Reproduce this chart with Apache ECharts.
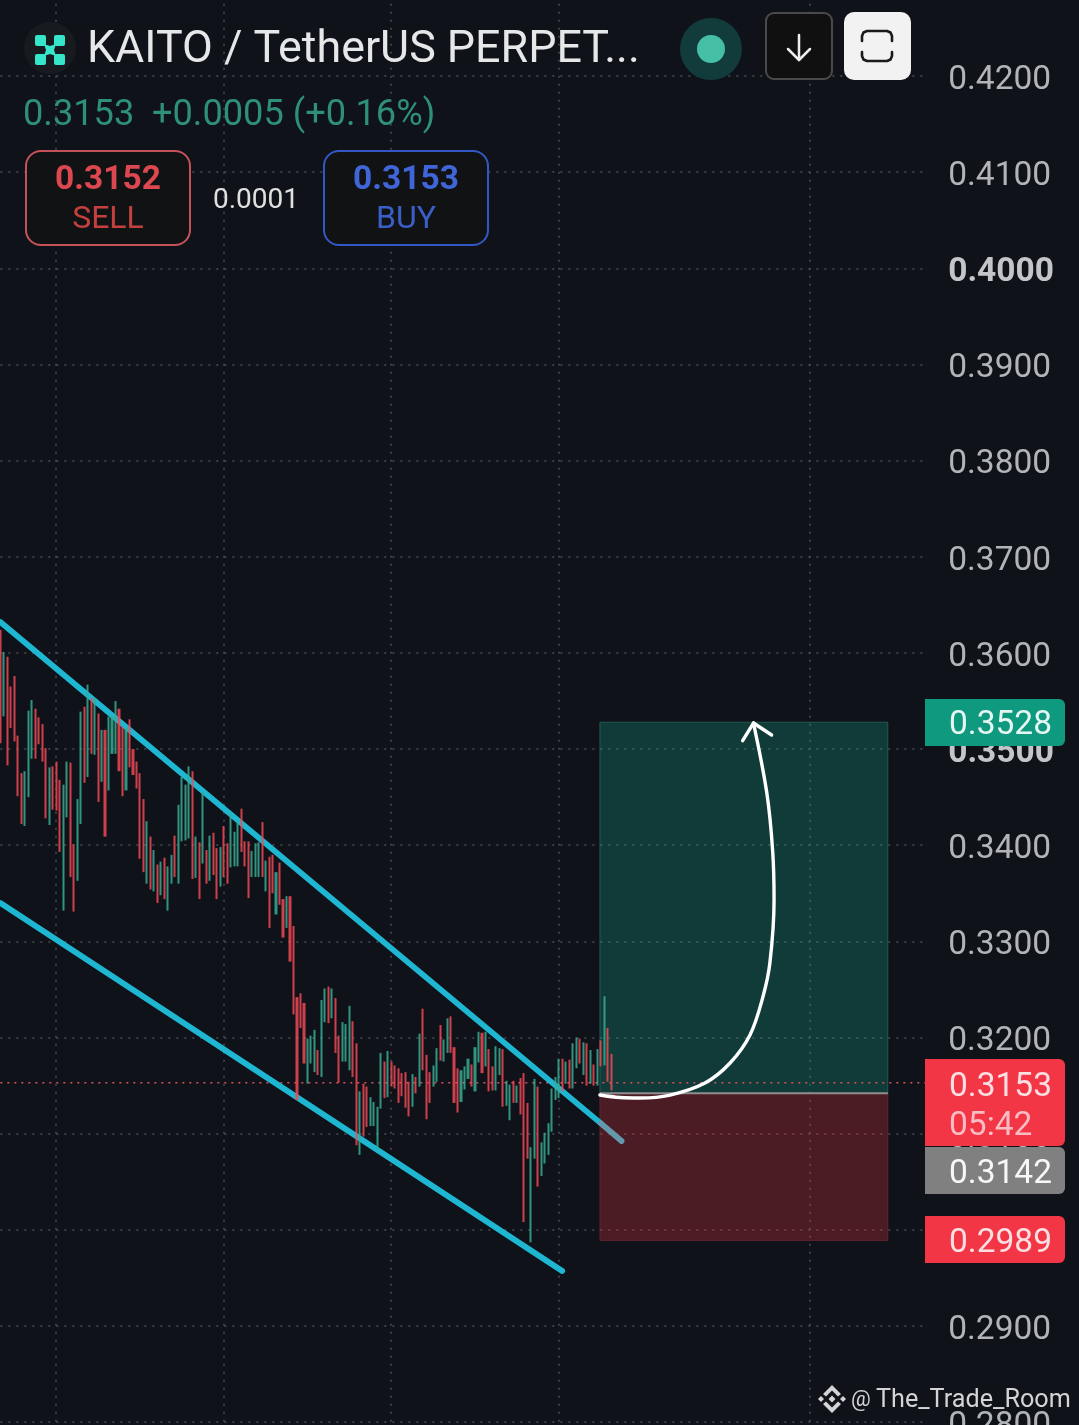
<!DOCTYPE html>
<html><head><meta charset="utf-8">
<style>html,body{margin:0;padding:0;background:#0f1219}#c{width:1079px;height:1425px}</style>
<script src="https://cdn.jsdelivr.net/npm/echarts@6/dist/echarts.min.js"></script>
</head><body><div id="c"></div><script>
const highs=[0.3624,0.3601,0.3596,0.3565,0.3576,0.3514,0.3475,0.3477,0.3540,0.3551,
0.3542,0.3533,0.3526,0.3501,0.3481,0.3482,0.3487,0.3468,0.3463,0.3487,
0.3486,0.3401,0.3448,0.3539,0.3544,0.3567,0.3553,0.3553,0.3537,0.3520,
0.3520,0.3534,0.3534,0.3550,0.3542,0.3523,0.3522,0.3531,0.3500,0.3487,
0.3475,0.3448,0.3425,0.3409,0.3395,0.3380,0.3383,0.3387,0.3378,0.3390,
0.3410,0.3442,0.3471,0.3463,0.3482,0.3477,0.3409,0.3403,0.3456,0.3395,
0.3410,0.3413,0.3397,0.3398,0.3420,0.3402,0.3433,0.3414,0.3426,0.3438,
0.3404,0.3404,0.3394,0.3402,0.3403,0.3424,0.3384,0.3388,0.3390,0.3372,
0.3382,0.3344,0.3347,0.3347,0.3316,0.3242,0.3246,0.3236,0.3199,0.3202,
0.3208,0.3187,0.3239,0.3251,0.3253,0.3251,0.3241,0.3202,0.3216,0.3214,
0.3233,0.3217,0.3194,0.3144,0.3152,0.3149,0.3138,0.3133,0.3128,0.3184,
0.3175,0.3186,0.3175,0.3171,0.3168,0.3163,0.3164,0.3154,0.3162,0.3159,
0.3204,0.3230,0.3182,0.3164,0.3171,0.3189,0.3213,0.3198,0.3220,0.3222,
0.3190,0.3168,0.3166,0.3170,0.3178,0.3172,0.3190,0.3206,0.3205,0.3206,
0.3188,0.3170,0.3191,0.3189,0.3188,0.3155,0.3151,0.3155,0.3150,0.3158,
0.3163,0.3132,0.3086,0.3157,0.3149,0.3091,0.3101,0.3111,0.3147,0.3159,
0.3178,0.3178,0.3175,0.3177,0.3194,0.3200,0.3199,0.3195,0.3194,0.3187,
0.3172,0.3188,0.3197,0.3243,0.3210,0.3183];
const lows=[0.3506,0.3534,0.3483,0.3522,0.3508,0.3451,0.3422,0.3420,0.3450,0.3490,
0.3490,0.3505,0.3487,0.3428,0.3421,0.3437,0.3436,0.3393,0.3332,0.3429,
0.3367,0.3331,0.3363,0.3422,0.3465,0.3471,0.3495,0.3494,0.3445,0.3466,
0.3409,0.3457,0.3495,0.3495,0.3477,0.3451,0.3457,0.3481,0.3473,0.3459,
0.3386,0.3372,0.3360,0.3354,0.3352,0.3340,0.3348,0.3344,0.3332,0.3360,
0.3367,0.3360,0.3404,0.3405,0.3407,0.3365,0.3366,0.3344,0.3381,0.3360,
0.3363,0.3369,0.3344,0.3357,0.3367,0.3360,0.3377,0.3378,0.3378,0.3393,
0.3378,0.3345,0.3367,0.3367,0.3367,0.3367,0.3352,0.3314,0.3350,0.3328,
0.3338,0.3304,0.3314,0.3279,0.3224,0.3135,0.3210,0.3173,0.3152,0.3173,
0.3164,0.3161,0.3159,0.3216,0.3215,0.3220,0.3184,0.3153,0.3175,0.3175,
0.3166,0.3159,0.3088,0.3078,0.3097,0.3107,0.3108,0.3108,0.3083,0.3126,
0.3137,0.3138,0.3149,0.3147,0.3132,0.3139,0.3127,0.3118,0.3128,0.3142,
0.3149,0.3166,0.3115,0.3132,0.3149,0.3154,0.3176,0.3175,0.3184,0.3184,
0.3132,0.3122,0.3133,0.3146,0.3157,0.3149,0.3144,0.3174,0.3163,0.3170,
0.3144,0.3145,0.3145,0.3161,0.3128,0.3129,0.3114,0.3132,0.3132,0.3120,
0.3008,0.3074,0.2987,0.3074,0.3045,0.3056,0.3069,0.3078,0.3102,0.3135,
0.3137,0.3144,0.3152,0.3147,0.3147,0.3168,0.3173,0.3161,0.3150,0.3152,
0.3150,0.3150,0.3170,0.3171,0.3154,0.3145];
const directions="RGRRRRRGGG"+"RRRRGRRRGG"+"RRGGRGRGRG"+"RGGGRRGRRR"+"RRGRGRGRGG"+"RGGGGRGRGR"+"GRRGRRGGGR"+"RRGGGRGRRG"+"RRGRRRRRGG"+"GRGGRGRRGG"+"GRRGRRGGGG"+"RGRRRRRRGR"+"GRRRGGRGGR"+"RRGGGRGGRG"+"RRGGRGGRGR"+"RRGGRGGGGG"+"GRGRGGRGRG"+"RGRGRR";
const slotCount=266;
const timeGridSlots=[16,64,112,160,232];
const yTicksBold=[0.40,0.35];
const lastPrice=0.3153, entryPrice=0.3142, targetPrice=0.3528, stopPrice=0.2989;
const boxStart=171.8, boxEnd=254.3;
const upperChannel=[[0,0.36322],[172,0.3111]];
const upperChannelTail=[[172,0.3111],[178,0.30924]];
const lowerChannel=[[0,0.33399],[161,0.29572]];
const arrowCurve=[[171.8,0.31402],[177.6,0.31376],[183.3,0.31371],[191.9,0.31402],[201.9,0.31527],[209.1,0.31735],[214.8,0.32026],[218.5,0.32422],[220.5,0.32775],[221.7,0.3343],[221.3,0.3394],[219.6,0.3455],[215.8,0.35271]];
const arrowHead=[[212.7,0.35087],[215.8,0.35271],[221.0,0.35146]];

const font='Roboto';
const slots=Array.from({length:slotCount},(_,i)=>String(i));
const candles=highs.map((h,i)=>directions[i]==='G'?[lows[i],h,lows[i],h]:[h,lows[i],lows[i],h]);
const dots={type:[2,6],color:'#4b4f57',width:1.5};
const chart=echarts.init(document.getElementById('c'),null,{renderer:'canvas'});
const txt=(t,x,y,size,fill,extra)=>({type:'text',x,y:y+3.5,style:Object.assign({text:t,fontFamily:font,fontSize:size,fill,verticalAlign:'middle'},extra||{})});
const ctxt=(t,x,y,size,fill,weight)=>txt(t,x,y,size,fill,{align:'center',fontWeight:weight||400});
const tag=(x,y,w,h,fill,r)=>({type:'rect',shape:{x,y,width:w,height:h,r},style:{fill}});
const line=(data,color,width,z,extra)=>Object.assign({type:'line',xAxisIndex:1,yAxisIndex:0,data,symbol:'none',z,silent:true,animation:false,lineStyle:{color,width,cap:'round',join:'round'}},extra||{});
const poly=(points,stroke,lineWidth)=>({type:'polyline',shape:{points},style:{fill:null,stroke,lineWidth,lineCap:'round',lineJoin:'round'}});
const gon=(points,fill)=>({type:'polygon',shape:{points},style:{fill}});
const annotations=[
  {type:'circle',shape:{cx:50,cy:48,r:26},style:{fill:'#171b20'}},
  {type:'rect',shape:{x:35,y:35,width:11,height:11,r:2},style:{fill:'#35e6cb'}},
  {type:'rect',shape:{x:54,y:35,width:11,height:11,r:2},style:{fill:'#35e6cb'}},
  {type:'rect',shape:{x:35,y:54,width:11,height:11,r:2},style:{fill:'#35e6cb'}},
  {type:'rect',shape:{x:54,y:54,width:11,height:11,r:2},style:{fill:'#35e6cb'}},
  gon([[44,44],[50,46],[56,44],[54,50],[56,56],[50,54],[44,56],[46,50]],'#35e6cb'),
  {type:'circle',shape:{cx:711,cy:49,r:31},style:{fill:'#123b3b'}},
  {type:'circle',shape:{cx:711,cy:49,r:14},style:{fill:'#45bfa5'}},
  {type:'rect',shape:{x:766,y:13,width:66,height:66,r:8},style:{fill:'#101010',stroke:'#4a4a4a',lineWidth:2}},
  poly([[799,35],[799,60]],'#eeeeee',2.5),
  poly([[788,49],[799,60],[810,49]],'#eeeeee',2.5),
  {type:'rect',shape:{x:844,y:12,width:67,height:68,r:10},style:{fill:'#f2f2f2'}},
  poly([[862,41],[862,36],[863.5,32.5],[867,31],[887,31],[890.5,32.5],[892,36],[892,41]],'#1a1a1a',2.6),
  poly([[862,52],[862,56],[863.5,59.5],[867,61],[887,61],[890.5,59.5],[892,56],[892,52]],'#1a1a1a',2.6),
  txt('0.3153',23,112,36.2,'#2e8f7a'),
  txt('+0.0005 (+0.16%)',152,112,36.2,'#2e8f7a'),
  {type:'rect',shape:{x:26,y:151,width:164,height:94,r:15},style:{fill:'#111214',stroke:'#c5525a',lineWidth:2}},
  {type:'rect',shape:{x:324,y:151,width:164,height:94,r:15},style:{fill:'#111214',stroke:'#3358c5',lineWidth:2}},
  ctxt('0.3152',108,177,33.5,'#dc4750',700),
  ctxt('SELL',108,216,32,'#c4403f'),
  ctxt('0.0001',256,197,28,'#e0e0e0'),
  ctxt('0.3153',406,177,33.5,'#3f65d8',700),
  ctxt('BUY',406,216,32,'#3a5fc9'),
  tag(925,699,140,47,'#0f9a80',[0,6,6,0]),
  txt('0.3528',949,722,33.5,'#e6f6f3'),
  tag(925,1059,140,87,'#f23645',[0,6,6,0]),
  txt('0.3153',949,1084,33.5,'#fbdfe2'),
  txt('05:42',949,1123,33.5,'#f9bcc3'),
  tag(925,1147,140,47,'#808080',[0,6,6,0]),
  txt('0.3142',949,1171,33.5,'#f7f7f7'),
  tag(925,1216,140,47,'#f23645',[0,6,6,0]),
  txt('0.2989',949,1240,33.5,'#fbdfe2'),
  gon([[832,1385],[841,1394],[838,1396.5],[832,1390.5],[826,1396.5],[823,1394]],'#d4d4d4'),
  gon([[832,1413],[841,1404],[838,1401.5],[832,1407.5],[826,1401.5],[823,1404]],'#d4d4d4'),
  gon([[818,1399],[821,1396],[824,1399],[821,1402]],'#d4d4d4'),
  gon([[840,1399],[843,1396],[846,1399],[843,1402]],'#d4d4d4'),
  gon([[832,1395.5],[835.5,1399],[832,1402.5],[828.5,1399]],'#d4d4d4'),
  txt('@',851,1397,22,'#d4d4d4'),
  txt('The_Trade_Room',876,1397,25.2,'#d4d4d4')
];

chart.setOption({
 backgroundColor:'#0f1219',animation:false,
 title:{text:'KAITO / TetherUS PERPET...',left:87,top:25,padding:0,z:200,textStyle:{fontFamily:font,fontSize:44.8,fontWeight:400,lineHeight:52,color:'#e6e7e9'}},
 grid:{left:0.33,top:-20.15,width:924.85,height:1538.46,containLabel:false,outerBoundsMode:'none'},
 xAxis:[
  {type:'category',data:slots,boundaryGap:false,axisLine:{show:false},axisTick:{show:false},axisLabel:{show:false},
   splitLine:{show:true,interval:i=>timeGridSlots.includes(i),lineStyle:dots}},
  {type:'value',min:0,max:slotCount-1,show:false,splitLine:{show:false}}
 ],
 yAxis:{type:'value',position:'right',min:0.27,max:0.43,interval:0.01,axisLine:{show:false},axisTick:{show:false},
  splitLine:{show:true,lineStyle:dots},
  axisLabel:{margin:23,align:'left',padding:[9,0,0,0],fontFamily:font,fontSize:33.5,color:'#b2b4b9',
   formatter:v=>{const s=v.toFixed(4);return yTicksBold.some(b=>Math.abs(b-v)<1e-6)?'{b|'+s+'}':s},
   rich:{b:{fontFamily:font,fontSize:33.5,fontWeight:700,color:'#c4c5c9'}}}},
 series:[
  line([[0,null]],'#000',0,1,{markArea:{silent:true,data:[
    [{xAxis:boxStart,yAxis:targetPrice,itemStyle:{color:'rgba(24,170,145,0.27)',borderColor:'rgba(50,130,115,0.55)',borderWidth:1}},{xAxis:boxEnd,yAxis:entryPrice}],
    [{xAxis:boxStart,yAxis:entryPrice,itemStyle:{color:'rgba(245,55,70,0.27)',borderColor:'rgba(125,40,50,0.65)',borderWidth:1}},{xAxis:boxEnd,yAxis:stopPrice}]
  ]}}),
  line([[0,lastPrice],[slotCount-1,lastPrice]],'#d9505c',1.5,1,{lineStyle:{color:'#d9505c',width:1.5,type:[2,5],cap:'butt'}}),
  line(upperChannel,'#1fb6d1',5.8,2),
  line(lowerChannel,'#1fb6d1',5.8,2),
  {type:'candlestick',xAxisIndex:0,yAxisIndex:0,data:candles,barWidth:2.6,z:3,clip:false,silent:true,
   itemStyle:{color:'#36ab93',color0:'#f04a56',borderColor:'#36ab93',borderColor0:'#f04a56',borderWidth:0,opacity:0.85}},
  line([[boxStart,entryPrice],[boxEnd,entryPrice]],'#8e8e8e',2,4,{lineStyle:{color:'#8e8e8e',width:2,cap:'butt'}}),
  line(upperChannelTail,'#6399ad',5.8,4),
  line(arrowCurve,'#ffffff',3.4,5,{smooth:0.35}),
  line(arrowHead,'#ffffff',3.4,5)
 ],
 graphic:annotations.map(e=>Object.assign({z:100},e))
});
</script></body></html>
